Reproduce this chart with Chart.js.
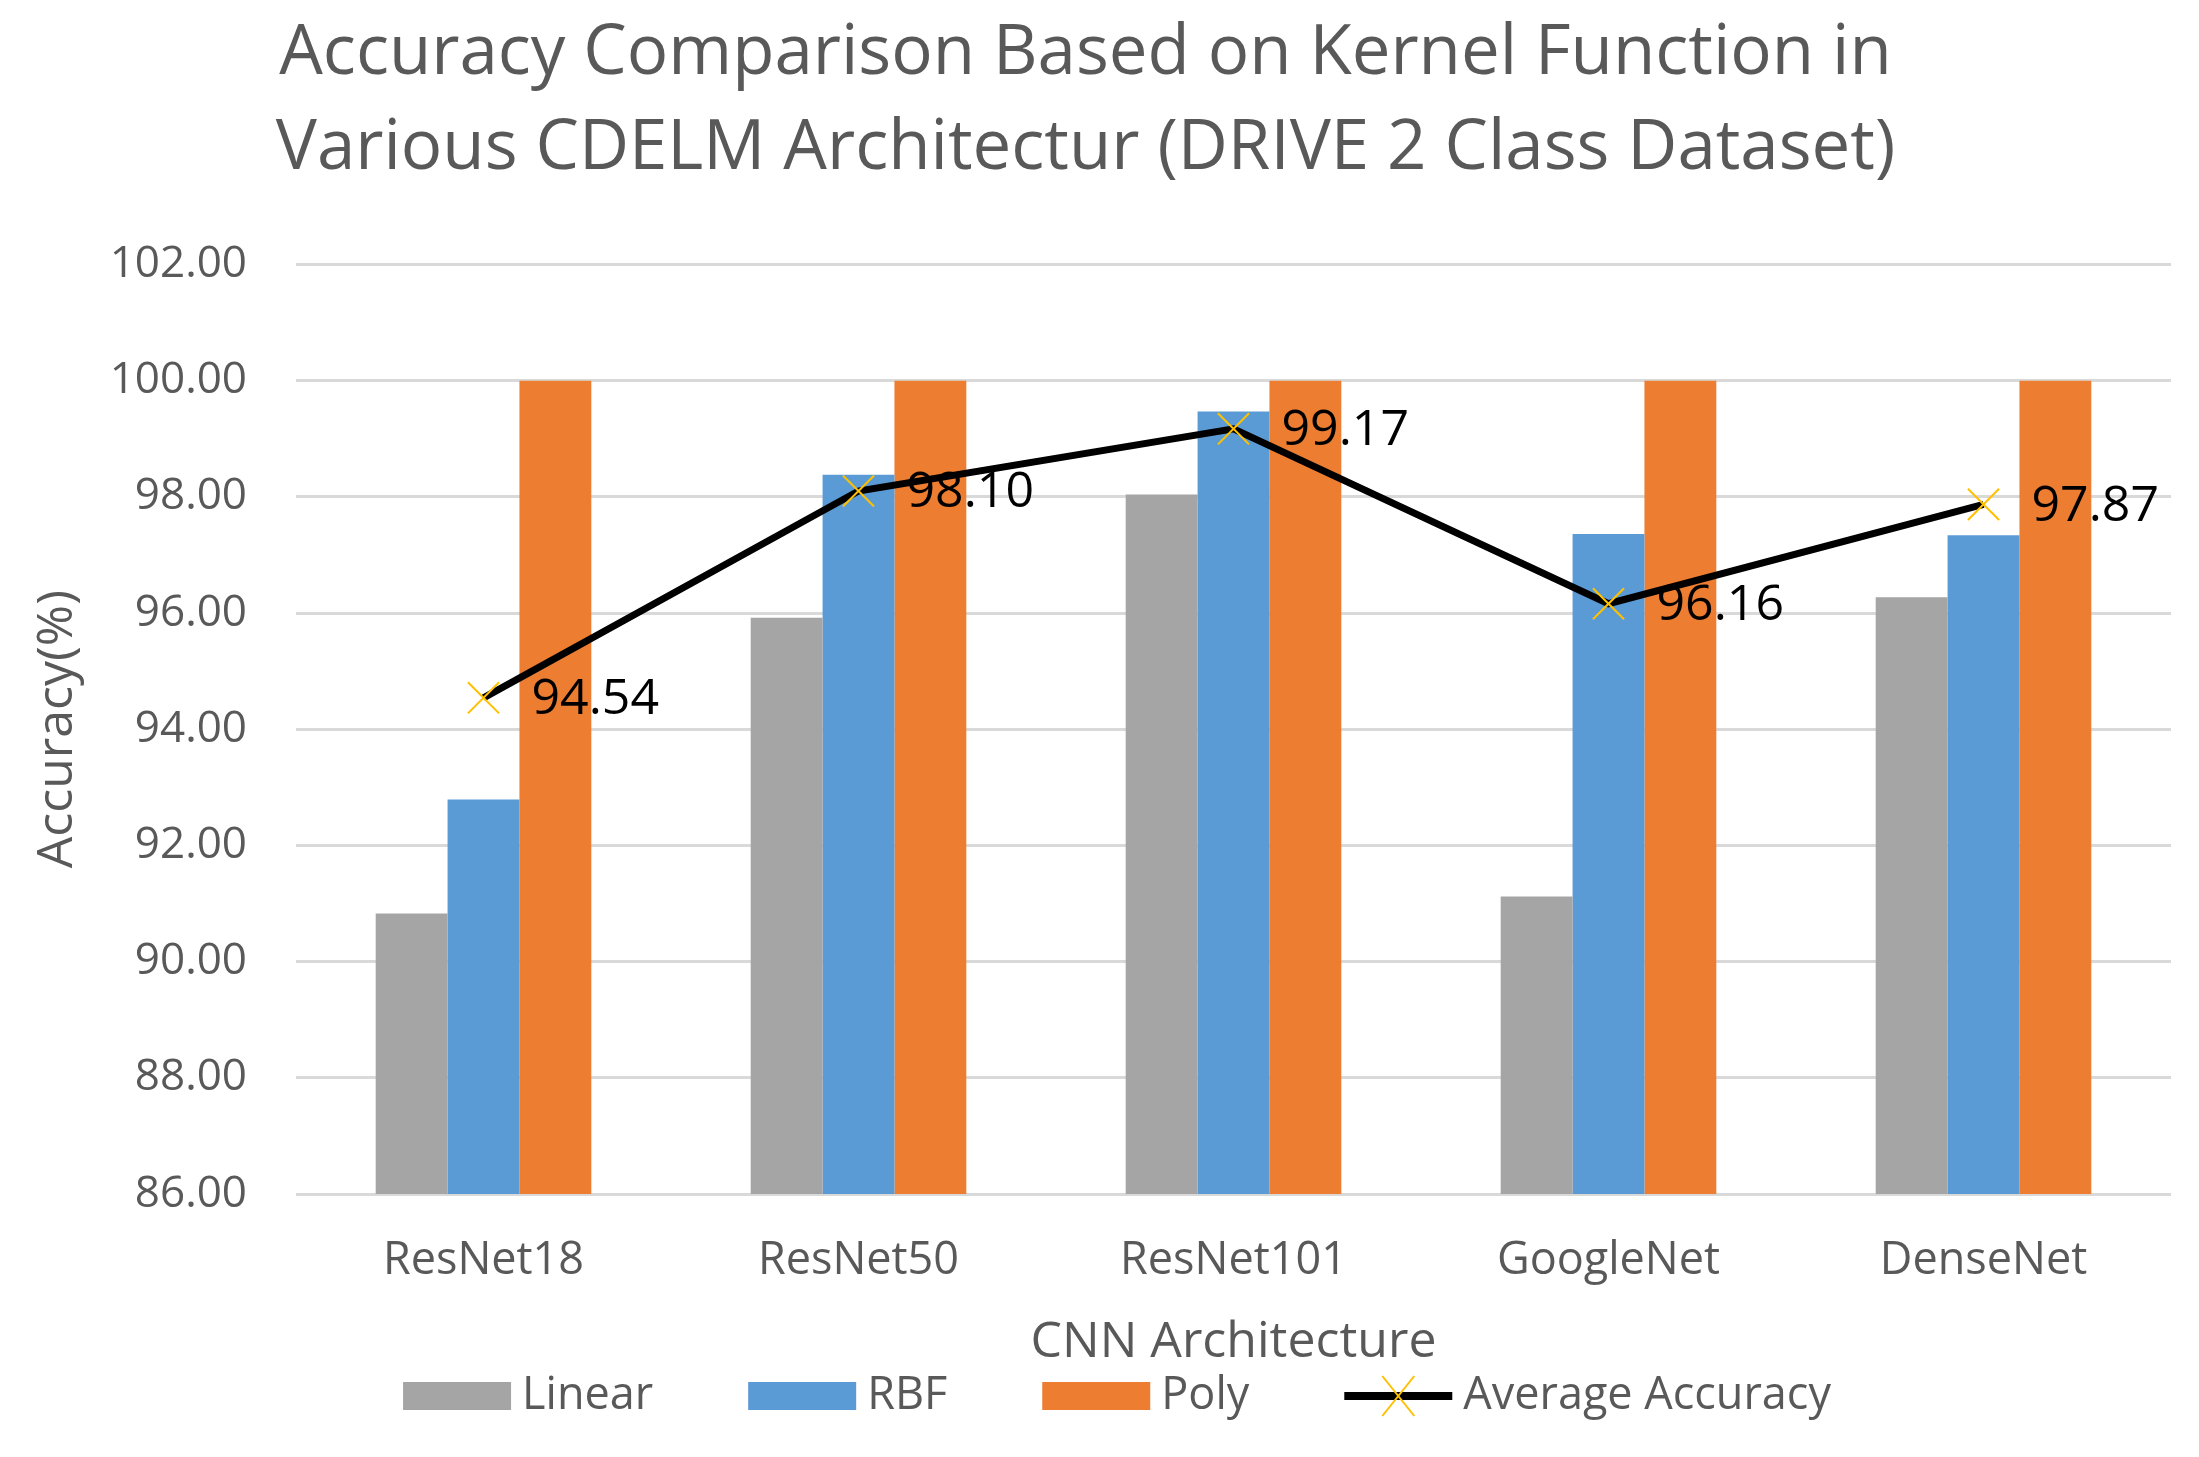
<!DOCTYPE html>
<html>
<head>
<meta charset="utf-8">
<script src="https://cdn.jsdelivr.net/npm/chart.js@4.4.0/dist/chart.umd.min.js"></script>
<style>
    html, body { margin: 0; padding: 0; background: #fff; }
    #wrap { width: 2199px; height: 1457px; }
</style>
</head>
<body>
<div id="wrap"><canvas id="chart" width="2199" height="1457"></canvas></div>
<script>
// valeurs
var categories = ['ResNet18', 'ResNet50', 'ResNet101', 'GoogleNet', 'DenseNet'];
var linearAcc = [90.83, 95.92, 98.04, 91.12, 96.27];
var rbfAcc = [92.79, 98.38, 99.47, 97.36, 97.34];
var polyAcc = [100, 100, 100, 100, 100];
var avgAcc = [94.54, 98.10, 99.17, 96.16, 97.87];
var yMin = 86;
var yMax = 102;
var yStep = 2;

var fontFam = '"Open Sans", "Noto Sans", sans-serif';
var grey = '#595959';

// etiquettes de la courbe moyenne
var avgLabels = {
    id: 'avgLabels',
    afterDatasetsDraw: function (chart) {
        var ctx = chart.ctx;
        var meta = chart.getDatasetMeta(3);
        ctx.save();
        ctx.font = '50px ' + fontFam;
        ctx.fillStyle = '#000';
        ctx.textBaseline = 'middle';
        ctx.textAlign = 'left';
        meta.data.forEach(function (pt, i) {
            ctx.fillText(avgAcc[i].toFixed(2), pt.x + 48, pt.y + 2);
        });
        ctx.restore();
    }
};

// legende dessinee a la main (carres larges + ligne avec croix)
var customLegend = {
    id: 'customLegend',
    afterDraw: function (chart) {
        var ctx = chart.ctx;
        var ds = chart.data.datasets;
        var boxW = 108, boxH = 28, gapText = 11, gapItem = 95;
        var y = 1396;
        ctx.save();
        ctx.font = '45px ' + fontFam;
        var widths = ds.map(function (d) { return boxW + gapText + ctx.measureText(d.label).width; });
        var total = widths.reduce(function (a, b) { return a + b; }, 0) + gapItem * (ds.length - 1);
        var x = 1117 - total / 2;
        ds.forEach(function (d, i) {
            if (d.type === 'line') {
                ctx.strokeStyle = '#000';
                ctx.lineWidth = 8;
                ctx.beginPath();
                ctx.moveTo(x, y);
                ctx.lineTo(x + boxW, y);
                ctx.stroke();
                var cx = x + boxW / 2;
                ctx.strokeStyle = '#FFC000';
                ctx.lineWidth = 2;
                ctx.beginPath();
                ctx.moveTo(cx - 16, y - 20);
                ctx.lineTo(cx + 16, y + 20);
                ctx.moveTo(cx + 16, y - 20);
                ctx.lineTo(cx - 16, y + 20);
                ctx.stroke();
            } else {
                ctx.fillStyle = d.backgroundColor;
                ctx.fillRect(x, y - boxH / 2, boxW, boxH);
            }
            ctx.fillStyle = grey;
            ctx.textBaseline = 'middle';
            ctx.textAlign = 'left';
            ctx.fillText(d.label, x + boxW + gapText, y);
            x += widths[i] + gapItem;
        });
        ctx.restore();
    }
};

var ctx = document.getElementById('chart');
var myChart = new Chart(ctx, {
    type: 'bar',
    data: {
        labels: categories,
        datasets: [{
            label: 'Linear',
            data: linearAcc,
            backgroundColor: '#A5A5A5',
            order: 1
        }, {
            label: 'RBF',
            data: rbfAcc,
            backgroundColor: '#5B9BD5',
            order: 1
        }, {
            label: 'Poly',
            data: polyAcc,
            backgroundColor: '#ED7D31',
            order: 1
        }, {
            type: 'line',
            label: 'Average Accuracy',
            data: avgAcc,
            borderColor: '#000',
            borderWidth: 7,
            backgroundColor: '#000',
            pointStyle: 'crossRot',
            pointRadius: 22,
            pointBorderColor: '#FFC000',
            pointBorderWidth: 2,
            tension: 0,
            order: 0
        }]
    },
    options: {
        responsive: false,
        animation: false,
        devicePixelRatio: 1,
        layout: { padding: { left: 0, right: 28, top: 0, bottom: 80 } },
        datasets: {
            bar: { categoryPercentage: 0.575, barPercentage: 1.0 }
        },
        plugins: {
            title: {
                display: true,
                text: ['Accuracy Comparison Based on Kernel Function in', 'Various CDELM Architectur (DRIVE 2 Class Dataset)'],
                color: grey,
                font: { family: fontFam, size: 69, weight: 'normal', lineHeight: 1.38 },
                padding: { top: 7, bottom: 67 }
            },
            legend: { display: false },
            tooltip: { enabled: false }
        },
        scales: {
            x: {
                grid: { display: false, drawTicks: false },
                border: { display: false },
                afterFit: function (scale) { scale.height = 183; },
                ticks: {
                    color: grey,
                    font: { family: fontFam, size: 45 },
                    padding: 40,
                    maxRotation: 0
                },
                title: {
                    display: true,
                    text: 'CNN Architecture',
                    color: grey,
                    font: { family: fontFam, size: 50 },
                    padding: { top: 0, bottom: 4 }
                }
            },
            y: {
                min: yMin,
                max: yMax,
                grid: { color: '#D9D9D9', lineWidth: 3, drawTicks: false },
                border: { display: false },
                afterFit: function (scale) { scale.width = 296; },
                ticks: {
                    stepSize: yStep,
                    color: grey,
                    font: { family: fontFam, size: 44 },
                    padding: 49,
                    callback: function (v) { return v.toFixed(2); }
                },
                title: {
                    display: true,
                    text: 'Accuracy(%)',
                    color: grey,
                    font: { family: fontFam, size: 50 },
                    padding: { top: 28, bottom: 0 }
                }
            }
        }
    },
    plugins: [avgLabels, customLegend]
});
</script>
</body>
</html>
